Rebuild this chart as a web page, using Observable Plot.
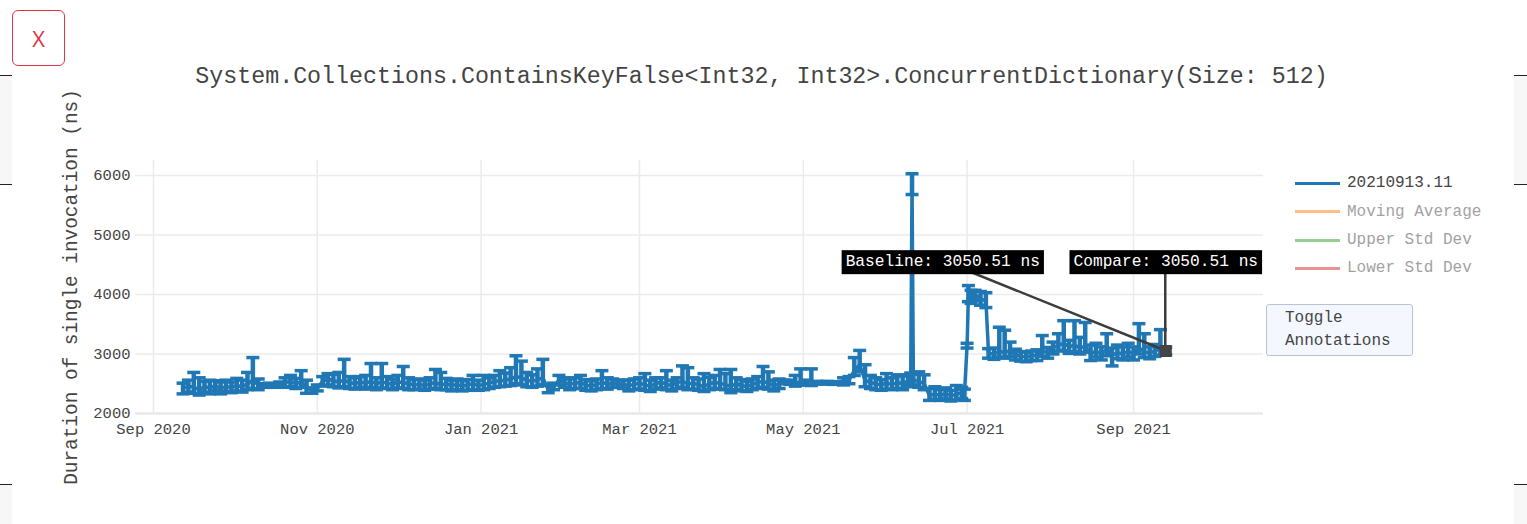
<!DOCTYPE html>
<html>
<head>
<meta charset="utf-8">
<script src="https://cdn.jsdelivr.net/npm/d3@7"></script>
<script src="https://cdn.jsdelivr.net/npm/@observablehq/plot@0.6"></script>
<style>
  html, body { margin: 0; padding: 0; }
  body { width: 1527px; height: 524px; overflow: hidden; background: #fff; position: relative;
         font-family: 'Liberation Mono', 'DejaVu Sans Mono', monospace; color: #444; }
  #chart { position: absolute; left: 0; top: 0; }
  .title { position: absolute; left: 0; width: 1523px; top: 62px; text-align: center; font-size: 23.3px;
           line-height: 30px; color: #444; white-space: nowrap; }
  .closebtn { position: absolute; left: 12px; top: 10px; width: 53px; height: 56px; box-sizing: border-box;
              border: 1px solid #dc3545; border-radius: 6px; color: #dc3545; font-family: 'Open Sans', 'Noto Sans', sans-serif;
              font-size: 22px; line-height: 54px; text-align: center; }
  .legend-item { position: absolute; left: 1295px; height: 20px; white-space: nowrap; font-size: 16px; line-height: 20px; }
  .legend-item .sw { position: absolute; left: 0; top: 8.5px; width: 45px; height: 3px; }
  .legend-item .lb { position: absolute; left: 52px; top: 0; }
  .toggle { position: absolute; left: 1266px; top: 304px; width: 147px; height: 52px; box-sizing: border-box;
            border: 1px solid #b7c3d9; border-radius: 3px; background: #f4f8fe; font-size: 16px; line-height: 23px;
            padding: 2px 0 0 18px; color: #444; }
  .side { position: absolute; background: #f7f7f7; border-top: 1px solid #222; }
  .side.mid { border-bottom: 1px solid #222; }
</style>
</head>
<body>
<div class="side mid" style="left:0;top:75px;width:12px;height:108px;"></div>
<div class="side mid" style="left:1514px;top:75px;width:13px;height:108px;"></div>
<div class="side" style="left:0;top:484px;width:12px;height:40px;"></div>
<div class="side" style="left:1514px;top:484px;width:13px;height:40px;"></div>
<div id="chart"></div>
<div class="closebtn">X</div>
<div class="title" id="title"></div>
<div id="legend"></div>
<div class="toggle">Toggle<br>Annotations</div>
<script>
// ---------- data ----------
const chartTitle = "System.Collections.ContainsKeyFalse<Int32, Int32>.ConcurrentDictionary(Size: 512)";
const yLabel = "Duration of single invocation (ns)";
const legendNames = ["20210913.11", "Moving Average", "Upper Std Dev", "Lower Std Dev"];

const dates = [
  "2020-09-12","2020-09-14","2020-09-16","2020-09-18","2020-09-20","2020-09-22","2020-09-24","2020-09-26","2020-09-28","2020-09-30",
  "2020-10-02","2020-10-04","2020-10-06","2020-10-08","2020-10-10","2020-10-12","2020-10-14","2020-10-16","2020-10-18","2020-10-20","2020-10-22","2020-10-24","2020-10-26","2020-10-28","2020-10-30",
  "2020-11-01","2020-11-03","2020-11-05","2020-11-07","2020-11-09","2020-11-11","2020-11-13","2020-11-15","2020-11-17","2020-11-19","2020-11-21","2020-11-23","2020-11-25","2020-11-27","2020-11-29",
  "2020-12-01","2020-12-03","2020-12-05","2020-12-07","2020-12-09","2020-12-11","2020-12-13","2020-12-15","2020-12-17","2020-12-19","2020-12-21","2020-12-23","2020-12-25","2020-12-27","2020-12-29","2020-12-31",
  "2021-01-02","2021-01-04","2021-01-06","2021-01-08","2021-01-10","2021-01-12","2021-01-14","2021-01-16","2021-01-18","2021-01-20","2021-01-22","2021-01-24","2021-01-26","2021-01-28","2021-01-30",
  "2021-02-01","2021-02-03","2021-02-05","2021-02-07","2021-02-09","2021-02-11","2021-02-13","2021-02-15","2021-02-17","2021-02-19","2021-02-21","2021-02-23","2021-02-25","2021-02-27",
  "2021-03-01","2021-03-03","2021-03-05","2021-03-07","2021-03-09","2021-03-11","2021-03-13","2021-03-15","2021-03-17","2021-03-19","2021-03-21","2021-03-23","2021-03-25","2021-03-27","2021-03-29","2021-03-31",
  "2021-04-02","2021-04-04","2021-04-06","2021-04-08","2021-04-10","2021-04-12","2021-04-14","2021-04-16","2021-04-18","2021-04-20","2021-04-22","2021-04-24","2021-04-26","2021-04-28","2021-04-30",
  "2021-05-02","2021-05-04","2021-05-06","2021-05-08","2021-05-10","2021-05-12","2021-05-14","2021-05-16","2021-05-18","2021-05-20","2021-05-22","2021-05-24","2021-05-26","2021-05-28","2021-05-30",
  "2021-06-01","2021-06-03","2021-06-05","2021-06-07","2021-06-09","2021-06-10T00:00Z","2021-06-10T12:00Z","2021-06-11","2021-06-13","2021-06-15","2021-06-17","2021-06-19","2021-06-21","2021-06-23","2021-06-25","2021-06-27","2021-06-29","2021-06-30",
  "2021-07-01T00:00Z","2021-07-01T12:00Z","2021-07-02T12:00Z","2021-07-04","2021-07-06","2021-07-08","2021-07-09","2021-07-11","2021-07-13","2021-07-15","2021-07-17","2021-07-19","2021-07-21","2021-07-23","2021-07-25","2021-07-27","2021-07-29","2021-07-31",
  "2021-08-02","2021-08-04","2021-08-06","2021-08-08","2021-08-10","2021-08-12","2021-08-14","2021-08-16","2021-08-18","2021-08-20","2021-08-22","2021-08-24","2021-08-26","2021-08-28","2021-08-30",
  "2021-09-01","2021-09-03","2021-09-05","2021-09-07","2021-09-09","2021-09-11","2021-09-13"
];

const values = [
  2420,2460,2440,2400,2450,2430,2470,2420,2450,2440,
  2470,2450,2500,2560,2480,2470,2480,2470,2490,2520,2540,2500,2530,2450,2380,
  2430,2540,2580,2550,2530,2560,2520,2500,2530,2510,2540,2500,2530,2510,2490,
  2530,2520,2500,2480,2490,2470,2500,2520,2480,2500,2470,2490,2460,2480,2500,2470,
  2490,2510,2540,2550,2560,2580,2620,2600,2560,2540,2570,2600,2400,2450,2560,
  2520,2490,2510,2520,2480,2460,2490,2520,2500,2510,2500,2490,2470,2490,
  2510,2480,2460,2500,2530,2490,2470,2520,2540,2500,2510,2480,2450,2500,2520,2510,
  2480,2460,2500,2470,2450,2490,2520,2540,2510,2470,2500,2530,2520,2530,2510,
  2520,2530,2520,2515,2520,2510,2515,2520,2560,2720,2820,2560,2520,2500,2480,
  2510,2490,2520,2500,2550,2580,5850,2560,2540,2500,2300,2330,2300,2340,2300,2320,2350,2320,
  3140,3990,3950,4000,3920,3900,3010,3000,3050,3020,3060,2990,2960,2950,2970,2980,3060,3020,
  3100,3150,3180,3120,3150,3100,3130,3000,3050,3000,3080,2980,3020,3000,3050,
  3000,3100,3040,3010,3060,3080,3050.51
];

const lower = [
  2330,2360,2340,2310,2360,2330,2380,2330,2370,2350,
  2380,2360,2400,2420,2400,2440,2450,2440,2450,2440,2450,2420,2440,2340,2340,
  2380,2460,2480,2450,2430,2450,2420,2410,2440,2410,2440,2400,2430,2420,2400,
  2430,2420,2400,2400,2410,2390,2410,2420,2400,2400,2380,2400,2380,2390,2400,2390,
  2400,2420,2440,2450,2460,2470,2500,2480,2450,2440,2460,2480,2350,2400,2480,
  2440,2400,2420,2420,2390,2380,2400,2420,2410,2440,2440,2420,2380,2400,
  2410,2390,2370,2410,2430,2400,2380,2420,2440,2400,2410,2390,2370,2400,2420,2410,
  2400,2350,2400,2380,2370,2400,2420,2440,2410,2380,2420,2500,2490,2460,2480,
  2480,2470,2500,2495,2500,2490,2495,2480,2500,2640,2700,2450,2420,2400,2390,
  2410,2400,2420,2400,2450,2480,5680,2460,2440,2400,2220,2240,2220,2250,2210,2230,2250,2220,
  3100,3880,3850,3900,3820,3780,2930,2910,2950,2930,2960,2900,2880,2870,2890,2890,2960,2930,
  3000,3050,3060,3010,3040,3000,3030,2890,2950,2900,2970,2800,2920,2900,2950,
  2900,3000,2940,2920,2960,2980,2990
];

const upper = [
  2510,2560,2690,2600,2540,2560,2550,2530,2560,2530,
  2590,2560,2690,2940,2580,2500,2510,2500,2530,2600,2640,2590,2720,2560,2430,
  2480,2620,2670,2660,2690,2910,2620,2600,2620,2640,2840,2600,2840,2620,2580,
  2640,2790,2600,2570,2580,2560,2600,2740,2690,2590,2560,2580,2550,2570,2640,2560,
  2640,2600,2640,2720,2680,2770,2970,2880,2690,2650,2750,2910,2470,2510,2640,
  2600,2580,2600,2640,2570,2550,2580,2720,2600,2580,2560,2560,2560,2580,
  2600,2670,2560,2600,2600,2720,2560,2600,2800,2770,2600,2580,2670,2610,2640,2740,
  2670,2740,2600,2570,2540,2580,2620,2790,2700,2560,2580,2560,2560,2640,2750,
  2560,2750,2540,2535,2540,2530,2535,2600,2620,2940,3060,2820,2640,2600,2570,
  2670,2600,2650,2630,2650,2680,6030,2660,2700,2650,2420,2450,2400,2430,2390,2470,2440,2410,
  3180,4150,4070,4070,4050,4030,3090,3100,3450,3400,3200,3080,3040,3030,3050,3070,3310,3110,
  3200,3340,3560,3230,3560,3280,3530,3150,3180,3120,3340,3100,3150,3120,3180,
  3120,3510,3340,3120,3160,3410,3110
];

const xTickDates = ["2020-09-01","2020-11-01","2021-01-01","2021-03-01","2021-05-01","2021-07-01","2021-09-01"];
const yTickValues = [2000, 3000, 4000, 5000, 6000];

const annLabels = ["Baseline: 3050.51 ns", "Compare: 3050.51 ns"];
const annDates = ["2021-09-13", "2021-09-13"];
const annValues = [3050.51, 3050.51];

// ---------- build ----------
const blue = "#1f77b4";
const data = dates.map((d, i) => ({date: new Date(d), v: values[i], lo: lower[i], hi: upper[i]}));
const xTicks = xTickDates.map(d => new Date(d));
const anns = annLabels.map((t, i) => ({label: t, date: new Date(annDates[i]), v: annValues[i]}));
const annDx = [-223, 0];
const annDy = -90;

const capSymbol = {
  draw(ctx, size) {
    const r = Math.sqrt(size / Math.PI);
    ctx.moveTo(-r, 0);
    ctx.lineTo(r, 0);
  }
};

const chart = Plot.plot({
  width: 1527,
  height: 524,
  marginLeft: 135,
  marginRight: 264,
  marginTop: 160,
  marginBottom: 111,
  style: {fontFamily: "'Liberation Mono', 'DejaVu Sans Mono', monospace", fontSize: "15.5px", color: "#444", background: "transparent", overflow: "visible"},
  x: {type: "utc", domain: [new Date("2020-08-25T07:00Z"), new Date("2021-10-19T09:30Z")]},
  y: {domain: [2000, 6252]},
  marks: [
    Plot.gridX(xTicks, {stroke: "#ebebeb", strokeOpacity: 1, strokeWidth: 1.5}),
    Plot.gridY(yTickValues, {stroke: "#ebebeb", strokeOpacity: 1, strokeWidth: 1.5}),
    Plot.ruleY([2000], {stroke: "#e8e8e8", strokeWidth: 2.5}),
    Plot.axisX(xTicks, {tickSize: 0, tickPadding: 9, tickFormat: d3.utcFormat("%b %Y"), label: null, fill: "#444"}),
    Plot.axisY(yTickValues, {tickSize: 0, tickPadding: 5, tickFormat: d3.format("d"), label: null, fill: "#444"}),
    Plot.text([yLabel], {frameAnchor: "left", dx: -65, rotate: -90, text: d => d, fontSize: 19.4, fill: "#444", textAnchor: "middle", lineAnchor: "middle"}),
    Plot.ruleX(data, {x: "date", y1: "lo", y2: "hi", stroke: blue, strokeWidth: 4.5}),
    Plot.dot(data, {x: "date", y: "hi", symbol: capSymbol, r: 6.5, stroke: blue, strokeWidth: 3.5, fill: "none"}),
    Plot.dot(data, {x: "date", y: "lo", symbol: capSymbol, r: 6.5, stroke: blue, strokeWidth: 3.5, fill: "none"}),
    Plot.line(data, {x: "date", y: "v", stroke: blue, strokeWidth: 3.5}),
    Plot.text([anns[0]], {x: "date", y: "v", text: "label", dx: annDx[0], dy: annDy, fill: "white", fontSize: 16.2, textAnchor: "middle", lineAnchor: "middle"}),
    Plot.text([anns[1]], {x: "date", y: "v", text: "label", dx: annDx[1], dy: annDy, fill: "white", fontSize: 16.2, textAnchor: "middle", lineAnchor: "middle"}),
    Plot.dot([anns[1]], {x: "date", y: "v", symbol: "square", r: 6.8, fill: "#444", stroke: "none"})
  ]
});

document.getElementById("chart").append(chart);

// annotation boxes and arrows, positioned through Plot's scales
const xs = chart.scale("x"), ys = chart.scale("y");
const fx = xs.apply ? (v) => xs.apply(v) : d3.scaleUtc(xs.domain, xs.range);
const fy = ys.apply ? (v) => ys.apply(v) : d3.scaleLinear(ys.domain, ys.range);
const ns = "http://www.w3.org/2000/svg";
const annTexts = Array.from(chart.querySelectorAll("text")).filter(t => annLabels.includes(t.textContent));
const arrowG = document.createElementNS(ns, "g");
anns.forEach((a, i) => {
  const px = fx(a.date), py = fy(a.v);
  const ln = document.createElementNS(ns, "line");
  ln.setAttribute("x1", px + annDx[i]); ln.setAttribute("y1", py + annDy);
  ln.setAttribute("x2", px); ln.setAttribute("y2", py);
  ln.setAttribute("stroke", "#3c3c3c"); ln.setAttribute("stroke-width", 2.5);
  arrowG.append(ln);
});
if (annTexts.length) {
  const firstG = annTexts[0].parentNode;
  firstG.parentNode.insertBefore(arrowG, firstG);
}
annTexts.forEach(t => {
  const bb = t.getBBox();
  const r = document.createElementNS(ns, "rect");
  const cy = bb.y + bb.height / 2;
  r.setAttribute("x", bb.x - 4);
  r.setAttribute("y", cy - 12);
  r.setAttribute("width", bb.width + 8);
  r.setAttribute("height", 24);
  r.setAttribute("fill", "#000");
  if (t.getAttribute("transform")) r.setAttribute("transform", t.getAttribute("transform"));
  t.parentNode.insertBefore(r, t);
});

// title and legend
document.getElementById("title").textContent = chartTitle;
const legendColors = ["#1f77b4", "#ff7f0e", "#2ca02c", "#d62728"];
const legendTops = [173, 201.5, 230, 258];
const leg = document.getElementById("legend");
legendNames.forEach((n, i) => {
  const item = document.createElement("div");
  item.className = "legend-item";
  item.style.top = legendTops[i] + "px";
  if (i > 0) item.style.opacity = 0.5;
  const sw = document.createElement("div");
  sw.className = "sw"; sw.style.background = legendColors[i];
  const lb = document.createElement("div");
  lb.className = "lb"; lb.textContent = n;
  item.append(sw, lb);
  leg.append(item);
});
</script>
</body>
</html>
